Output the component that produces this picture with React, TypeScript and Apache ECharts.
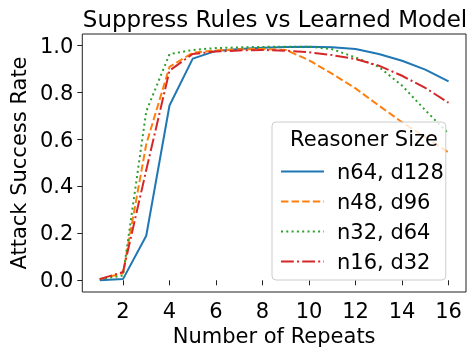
import React, { useEffect, useRef } from "react";
import * as echarts from "echarts";

const repeats = [1, 2, 3, 4, 5, 6, 7, 8, 9, 10, 11, 12, 13, 14, 15, 16];
const n64d128 = [0.0, 0.005, 0.19, 0.745, 0.945, 0.978, 0.986, 0.991, 0.995, 0.996, 0.994, 0.986, 0.965, 0.936, 0.898, 0.848];
const n48d96 = [0.005, 0.03, 0.58, 0.91, 0.97, 0.98, 0.985, 0.986, 0.982, 0.938, 0.88, 0.818, 0.745, 0.674, 0.61, 0.545];
const n32d64 = [0.005, 0.02, 0.72, 0.964, 0.982, 0.99, 0.993, 0.995, 0.996, 0.996, 0.985, 0.95, 0.91, 0.83, 0.725, 0.625];
const n16d32 = [0.005, 0.035, 0.47, 0.894, 0.965, 0.975, 0.98, 0.982, 0.979, 0.972, 0.96, 0.943, 0.915, 0.872, 0.82, 0.757];
const seriesNames = ["n64, d128", "n48, d96", "n32, d64", "n16, d32"];
const xTicks = [2, 4, 6, 8, 10, 12, 14, 16];
const yTicks = [0, 0.2, 0.4, 0.6, 0.8, 1.0];

const FONT = "DejaVu Sans";

export default function App() {
  const ref = useRef<HTMLDivElement>(null);
  useEffect(() => {
    if (!ref.current) return;
    const chart = echarts.init(ref.current, null, { renderer: "svg" });
    const colors = ["#1f77b4", "#ff7f0e", "#2ca02c", "#d62728"];
    const dashes: any[] = ["solid", [7.4, 3.2], [2, 3.3], [12.8, 3.2, 2, 3.2]];
    const values = [n64d128, n48d96, n32d64, n16d32];
    const series = values.map((vals, i) => ({
      name: seriesNames[i],
      type: "line",
      data: repeats.map((x, j) => [x, vals[j]]),
      symbol: "none",
      showSymbol: false,
      lineStyle: { color: colors[i], width: 2, type: dashes[i] },
      itemStyle: { color: colors[i] },
      z: 2,
    }));
    const axisCommon = {
      splitLine: { show: false },
      axisLine: { show: false },
    };
    chart.setOption({
      animation: false,
      textStyle: { fontFamily: FONT },
      title: {
        text: "Suppress Rules vs Learned Model",
        left: 270,
        top: 2,
        textAlign: "center",
        textStyle: { fontFamily: FONT, fontSize: 23, fontWeight: "normal", color: "#000" },
      },
      grid: {
        left: 75,
        right: 8,
        top: 34,
        bottom: 61,
        show: true,
        borderColor: "#222",
        borderWidth: 1,
        backgroundColor: "transparent",
      },
      xAxis: {
        type: "value",
        min: 0.25,
        max: 16.75,
        ...axisCommon,
        name: "Number of Repeats",
        nameLocation: "middle",
        nameGap: 31,
        nameTextStyle: { fontFamily: FONT, fontSize: 21, color: "#000" },
        axisTick: { show: true, inside: false, length: 5, customValues: xTicks, lineStyle: { color: "#222" } },
        axisLabel: { customValues: xTicks, margin: 8, fontFamily: FONT, fontSize: 21, color: "#000" },
      },
      yAxis: {
        type: "value",
        min: -0.05,
        max: 1.05,
        ...axisCommon,
        name: "Attack Success Rate",
        nameLocation: "middle",
        nameGap: 47,
        nameTextStyle: { fontFamily: FONT, fontSize: 21, color: "#000" },
        axisTick: { show: true, inside: false, length: 5, customValues: yTicks, lineStyle: { color: "#222" } },
        axisLabel: {
          customValues: yTicks,
          margin: 9,
          fontFamily: FONT,
          fontSize: 21,
          color: "#000",
          formatter: (v: number) => v.toFixed(1),
        },
      },
      legend: {
        data: seriesNames,
        orient: "vertical",
        left: 272,
        top: 122,
        padding: [39, 2, 8, 8],
        itemGap: 9,
        itemWidth: 43,
        itemHeight: 14,
        itemStyle: { opacity: 0 },
        backgroundColor: "rgba(255,255,255,0.8)",
        borderColor: "#cccccc",
        borderWidth: 1,
        borderRadius: 4,
        textStyle: { fontFamily: FONT, fontSize: 21, lineHeight: 21, color: "#000", padding: [0, 0, 0, 8] },
        selectedMode: false,
      },
      graphic: [
        {
          type: "text",
          x: 364,
          y: 139,
          z: 100,
          style: {
            text: "Reasoner Size",
            fontFamily: FONT,
            fontSize: 21,
            fill: "#000",
            textAlign: "center",
            textVerticalAlign: "middle",
          },
        },
      ],
      series,
    });
    return () => chart.dispose();
  }, []);
  return <div ref={ref} style={{ position: "fixed", left: 0, top: 0, width: 474, height: 353 }} />;
}
